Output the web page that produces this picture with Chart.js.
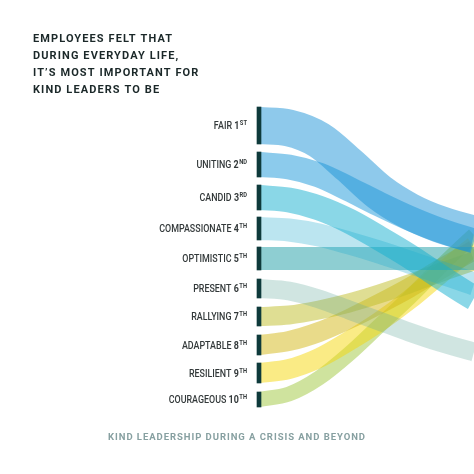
<!DOCTYPE html>
<html>
<head>
<meta charset="utf-8">
<script src="https://cdn.jsdelivr.net/npm/chart.js@4.4.1/dist/chart.umd.min.js"></script>
<style>
  html, body { margin: 0; padding: 0; background: #ffffff; }
  #wrap { width: 474px; height: 474px; }
  canvas { display: block; }
</style>
</head>
<body>
<div id="wrap"><canvas id="c" width="474" height="474"></canvas></div>
<script>
// ---------- data ----------
const titleLines = ['EMPLOYEES FELT THAT', 'DURING EVERYDAY LIFE,', 'IT\u2019S MOST IMPORTANT FOR', 'KIND LEADERS TO BE'];
const footerText = 'KIND LEADERSHIP DURING A CRISIS AND BEYOND';

const categories = ['FAIR', 'UNITING', 'CANDID', 'COMPASSIONATE', 'OPTIMISTIC', 'PRESENT', 'RALLYING', 'ADAPTABLE', 'RESILIENT', 'COURAGEOUS'];
const ranks = ['1', '2', '3', '4', '5', '6', '7', '8', '9', '10'];
const rankSuffix = ['ST', 'ND', 'RD', 'TH', 'TH', 'TH', 'TH', 'TH', 'TH', 'TH'];
// band weights (thickness, in flow units)
const weights = [37, 25, 25, 23, 23, 19, 19, 20, 20, 15];
// positions along the flow where each band's centre was read
const flowPos = [0, 30, 60, 90, 120, 150, 180, 215, 260];
// centre of each band along the flow (flow units)
const fairPath          = [125.5, 128, 140, 165, 192, 211, 224, 234, 242];
const unitingPath       = [164.5, 167, 175, 189, 204, 218, 230, 241, 252];
const candidPath        = [197.5, 200, 208, 221, 238, 256, 276, 298, 320];
const compassionatePath = [228.5, 230, 235, 243, 252, 262, 272, 284, 298];
const optimisticPath    = [258.5, 258.5, 258.5, 258.5, 258.5, 258.5, 258.5, 258.5, 258.5];
const presentPath       = [288.5, 291, 299, 310, 321, 332, 342, 352, 364];
const rallyingPath      = [316.5, 315, 310, 303, 294, 284, 273, 261, 246];
const adaptablePath     = [345, 341, 332, 319, 304, 288, 270, 250, 226];
const resilientPath     = [373, 369, 358, 341, 322, 300, 275, 246, 212];
const courageousPath    = [399.5, 394, 378, 354, 326, 298, 268, 235, 198];

const paths = [fairPath, unitingPath, candidPath, compassionatePath, optimisticPath,
               presentPath, rallyingPath, adaptablePath, resilientPath, courageousPath];

// ---------- styles ----------
const bandColors = [
  'rgba(29,147,215,0.5)',
  'rgba(25,152,217,0.5)',
  'rgba(21,175,207,0.5)',
  'rgba(30,170,205,0.3)',
  'rgba(29,158,166,0.5)',
  'rgba(100,170,155,0.3)',
  'rgba(192,190,40,0.5)',
  'rgba(212,184,22,0.5)',
  'rgba(246,216,12,0.5)',
  'rgba(160,200,62,0.5)'
];
const barColor = '#0e3a3b';

const pxFor = (scale, w) => Math.abs(scale.getPixelForValue(w) - scale.getPixelForValue(0));

const datasets = [];
categories.forEach((name, i) => {
  const w = weights[i];
  datasets.push({
    type: 'line',
    label: name,
    data: flowPos.map((p, k) => ({ x: p, y: paths[i][k] })),
    borderColor: bandColors[i],
    borderWidth: (ctx) => pxFor(ctx.chart.scales.y, w),
    borderCapStyle: 'butt',
    cubicInterpolationMode: 'monotone',
    pointRadius: 0,
    fill: false,
    order: 2
  });
});
datasets.push({
  type: 'bar',
  label: 'rank bars',
  data: categories.map((n, i) => ({ x: 0, y: [paths[i][0] - weights[i] / 2, paths[i][0] + weights[i] / 2] })),
  backgroundColor: barColor,
  barThickness: 4,
  grouped: false,
  clip: false,
  order: 0
});

// ---------- text plugin ----------
const textPlugin = {
  id: 'texts',
  afterDraw(chart) {
    const ctx = chart.ctx;
    const xs = chart.scales.x, ys = chart.scales.y;
    ctx.save();
    // title
    ctx.fillStyle = '#1b2829';
    ctx.font = 'bold 11px Roboto';
    ctx.letterSpacing = '1.1px';
    ctx.textAlign = 'left';
    ctx.textBaseline = 'alphabetic';
    titleLines.forEach((t, i) => ctx.fillText(t, 33, 41.5 + i * 17));
    // footer
    ctx.fillStyle = '#87a0a1';
    ctx.font = 'bold 9.5px Roboto';
    ctx.letterSpacing = '0.95px';
    ctx.textAlign = 'center';
    ctx.fillText(footerText, 237, 439.5);
    ctx.restore();

    // category labels
    const xRight = xs.getPixelForValue(0) - 12;
    const sx = 0.89;
    categories.forEach((name, i) => {
      const y = ys.getPixelForValue(paths[i][0]);
      ctx.save();
      ctx.translate(xRight, 0);
      ctx.scale(sx, 1);
      ctx.fillStyle = '#33393a';
      ctx.textBaseline = 'alphabetic';
      ctx.textAlign = 'right';
      ctx.font = 'bold 6.5px Roboto';
      const sw = ctx.measureText(rankSuffix[i]).width;
      ctx.fillText(rankSuffix[i], 0, y - 0.2);
      ctx.font = 'bold 10px Roboto';
      const nw = ctx.measureText(ranks[i]).width;
      ctx.fillText(ranks[i], -sw - 0.6, y + 3.6);
      ctx.font = '500 10px Roboto';
      ctx.fillText(name + ' ', -sw - 0.6 - nw, y + 3.6);
      ctx.restore();
    });
  }
};

new Chart(document.getElementById('c'), {
  type: 'line',
  data: { datasets },
  options: {
    responsive: false,
    animation: false,
    events: [],
    devicePixelRatio: 1,
    layout: { padding: { left: 259, right: 0, top: 0, bottom: 0 } },
    scales: {
      x: { type: 'linear', display: false, offset: false, min: 0, max: 215, grid: { offset: false } },
      y: { type: 'linear', display: false, offset: false, min: 0, max: 474, reverse: true }
    },
    plugins: { legend: { display: false }, tooltip: { enabled: false }, title: { display: false } }
  },
  plugins: [textPlugin]
});
</script>
</body>
</html>
